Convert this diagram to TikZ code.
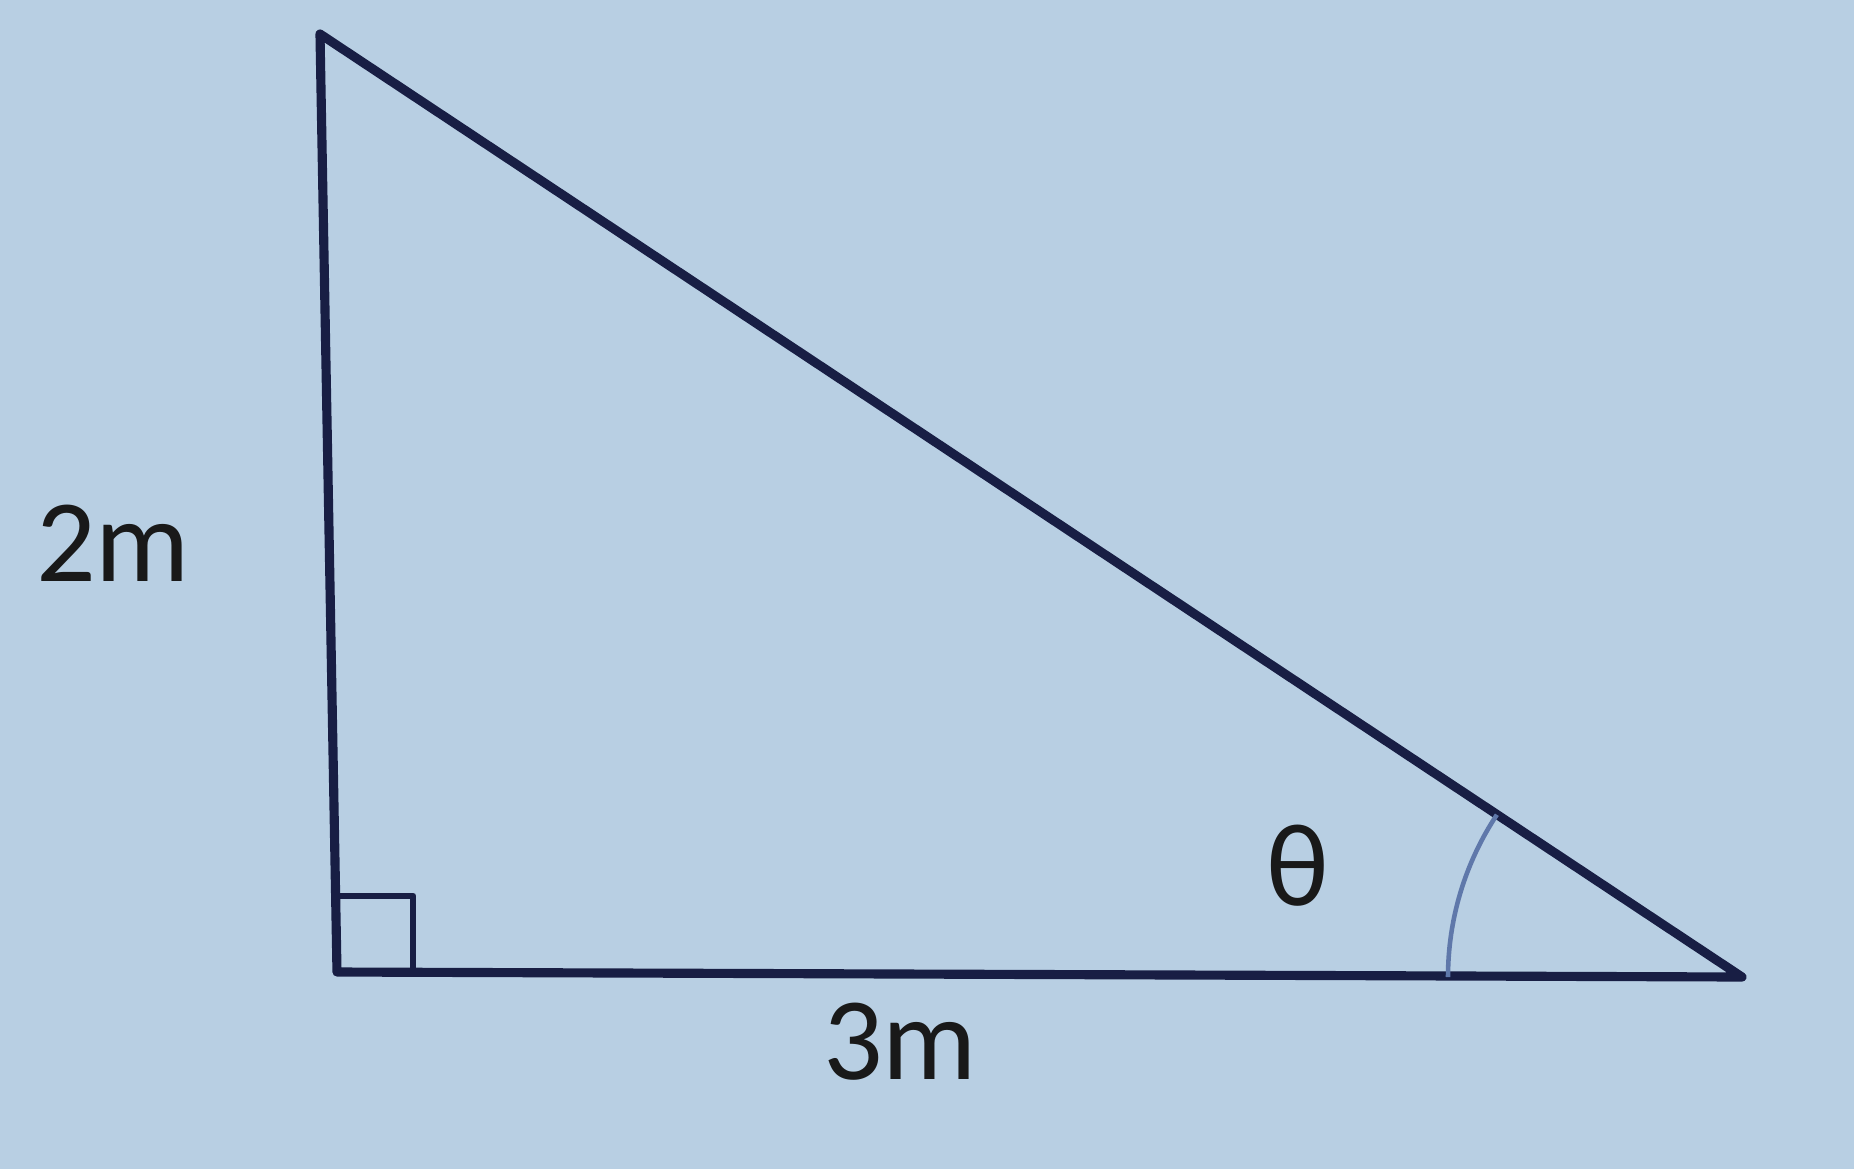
\documentclass[tikz,border=0pt]{standalone}
\usepackage{fontspec}
\setmainfont{Carlito}
\usepackage{xcolor}
\usetikzlibrary{calc,positioning}
\definecolor{screenbg}{RGB}{184,207,227}
\definecolor{inkline}{RGB}{24,30,68}
\definecolor{arcline}{RGB}{95,120,170}

\begin{document}
\begin{tikzpicture}[x=0.01cm,y=-0.01cm,
  side/.style={draw=inkline,line width=2.6pt,line join=round},
  lbl/.style={font=\fontsize{33.5}{37}\selectfont,text=black!90,inner sep=0pt}]
\useasboundingbox[fill=screenbg] (0,0) rectangle (1854,1169);
\coordinate (A) at (320,34);
\coordinate (B) at (337,972);
\coordinate (C) at (1742,977);
\draw[side] (A) -- (B) -- (C) -- cycle;
\draw[side,line width=1.9pt] ($(B)+(0,-76)$) -| ($(B)+(76,0)$);
\draw[arcline,line width=1.3pt] ($(C)+(-294,0)$) arc (180:213.5:294);
\node[lbl] (h) at (113,543) {2m};
\node[lbl] (b) at (900,1042) {3m};
\node[lbl] (t) at (1298,866) {θ};
\end{tikzpicture}
\end{document}
